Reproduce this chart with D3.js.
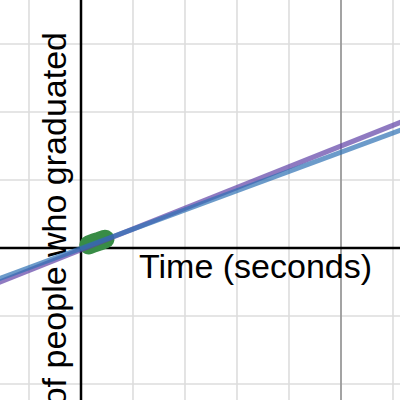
<!DOCTYPE html>
<html>
<head>
<meta charset="utf-8">
<script src="https://cdn.jsdelivr.net/npm/d3@7"></script>
<style>
  body { margin: 0; background: #fff; }
  svg { display: block; }
</style>
</head>
<body>
<div id="graph"><svg></svg></div>
<script>
// grid positions (one unit per grid square)
var xGrid = [-1, 0, 1, 2, 3, 4, 5, 6];
var yGrid = [-2, -1, 0, 1, 2, 3];
var xMajor = [5];

// two fitted lines, read at x = -2 and x = 7
var lineX = [-2, 7];
var purpleY = [-0.635, 2.11];
var blueY = [-0.573, 1.974];

// green points near the origin
var greenX = [0.15, 0.25, 0.35, 0.46];
var greenY = [0.045, 0.075, 0.1, 0.13];

var xLabel = "Time (seconds)";
var yLabel = "Number of people who graduated";

var width = 400;
var height = 400;

var svg = d3.select("#graph svg")
    .attr("width", width)
    .attr("height", height);

var xScale = d3.scaleLinear()
    .domain([0, 5])
    .range([81, 341]);

var yScale = d3.scaleLinear()
    .domain([0, 1])
    .range([248, 180]);

// minor grid
svg.selectAll("line.vgrid")
    .data(xGrid.filter(function(d){ return d != 0 && xMajor.indexOf(d) < 0; }))
    .enter()
    .append("line")
    .attr("class", "vgrid")
    .attr("x1", function(d){ return xScale(d); })
    .attr("x2", function(d){ return xScale(d); })
    .attr("y1", 0)
    .attr("y2", height)
    .attr("stroke", "#dddddd")
    .attr("stroke-width", 1.6);

svg.selectAll("line.hgrid")
    .data(yGrid.filter(function(d){ return d != 0; }))
    .enter()
    .append("line")
    .attr("class", "hgrid")
    .attr("y1", function(d){ return yScale(d); })
    .attr("y2", function(d){ return yScale(d); })
    .attr("x1", 0)
    .attr("x2", width)
    .attr("stroke", "#dddddd")
    .attr("stroke-width", 1.6);

// major grid
svg.selectAll("line.major")
    .data(xMajor)
    .enter()
    .append("line")
    .attr("class", "major")
    .attr("x1", function(d){ return xScale(d); })
    .attr("x2", function(d){ return xScale(d); })
    .attr("y1", 0)
    .attr("y2", height)
    .attr("stroke", "#999999")
    .attr("stroke-width", 1.8);

// axes
svg.append("line")
    .attr("x1", 0).attr("x2", width)
    .attr("y1", yScale(0)).attr("y2", yScale(0))
    .attr("stroke", "#000").attr("stroke-width", 2.5);

svg.append("line")
    .attr("x1", xScale(0)).attr("x2", xScale(0))
    .attr("y1", 0).attr("y2", height)
    .attr("stroke", "#000").attr("stroke-width", 2.5);

// labels
svg.append("text")
    .attr("x", 139)
    .attr("y", 278)
    .attr("font-family", "Liberation Sans, Arial, sans-serif")
    .attr("font-size", 34)
    .attr("fill", "#000")
    .text(xLabel);

svg.append("text")
    .attr("transform", "translate(66,32) rotate(-90)")
    .attr("text-anchor", "end")
    .attr("font-family", "Liberation Sans, Arial, sans-serif")
    .attr("font-size", 34)
    .attr("fill", "#000")
    .text(yLabel);

var line = d3.line()
    .x(function(d){ return xScale(d[0]); })
    .y(function(d){ return yScale(d[1]); });

// green points
svg.append("path")
    .datum(d3.zip(greenX, greenY))
    .attr("d", line)
    .attr("fill", "none")
    .attr("stroke", "#388c46")
    .attr("stroke-width", 19)
    .attr("stroke-linecap", "round")
    .attr("stroke-linejoin", "round");

svg.append("path")
    .datum(d3.zip(lineX, purpleY))
    .attr("d", line)
    .attr("fill", "none")
    .attr("stroke", "#6042a6")
    .attr("stroke-opacity", 0.7)
    .attr("stroke-width", 5);

svg.append("path")
    .datum(d3.zip(lineX, blueY))
    .attr("d", line)
    .attr("fill", "none")
    .attr("stroke", "#2d70b3")
    .attr("stroke-opacity", 0.7)
    .attr("stroke-width", 5);
</script>
</body>
</html>
